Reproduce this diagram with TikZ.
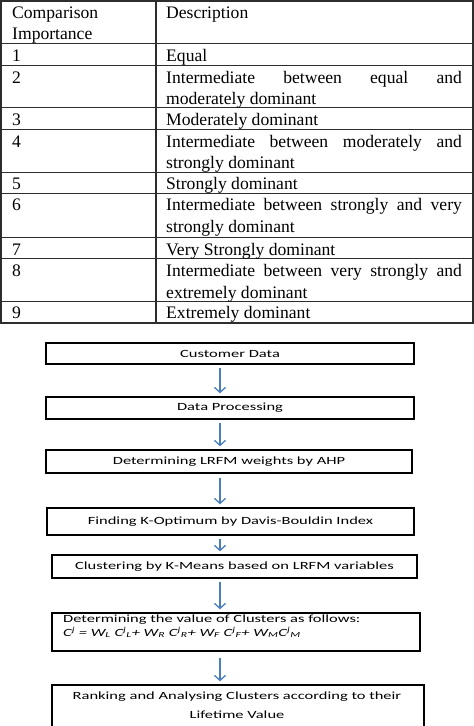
\documentclass[tikz,border=0pt]{standalone}
\usepackage{fontspec}
\setmainfont{Liberation Serif}
\newfontfamily\flowfont[FakeStretch=1.5]{Carlito}
\usetikzlibrary{arrows.meta,calc}
\definecolor{arrowblue}{RGB}{74,126,187}
\definecolor{tabline}{RGB}{45,45,45}
\begin{document}
\begin{tikzpicture}[x=1pt,y=-1pt,
  tabtext/.style={anchor=base west,inner sep=0pt,font=\fontsize{17.6}{21.5}\selectfont},
  hline/.style={draw=tabline,line width=1.2pt},
  flowbox/.style={draw=black,line width=1.4pt,inner sep=0pt,font=\flowfont\fontsize{11}{13}\selectfont},
  flowtext/.style={inner sep=0pt,font=\flowfont\fontsize{11}{13}\selectfont},
  flowarrow/.style={draw=arrowblue,line width=1.3pt,-{Straight Barb[length=5pt,width=11pt,line width=1.3pt]}}]
\useasboundingbox (0,0) rectangle (474,726);
% ---------- table ----------
\draw[draw=tabline,line width=2pt] (1,1) rectangle (472.5,322.7);
\draw[hline] (156,1) -- (156,322.7);
\foreach \yy in {43.5,65.5,107.7,129.4,172.7,193.3,237.3,258.3,301.5}{
  \draw[hline] (1,\yy) -- (472.5,\yy);
}
\node[tabtext] (h1a) at (12,18.5) {Comparison};
\node[tabtext] (h1b) at (12,39.5) {Importance};
\node[tabtext] (h2) at (166,18.5) {Description};
% rows
\node[tabtext] (n1) at (12,61) {1};
\node[tabtext] (d1) at (166,61) {Equal};
\node[tabtext] (n2) at (12,83) {2};
\node[tabtext] (d2a) at (166,83) {\makebox[295.7pt][s]{Intermediate between equal and}};
\node[tabtext] (d2b) at (166,104) {moderately dominant};
\node[tabtext] (n3) at (12,125.8) {3};
\node[tabtext] (d3) at (166,125.8) {Moderately dominant};
\node[tabtext] (n4) at (12,147) {4};
\node[tabtext] (d4a) at (166,147) {\makebox[295.7pt][s]{Intermediate between moderately and}};
\node[tabtext] (d4b) at (166,168.5) {strongly dominant};
\node[tabtext] (n5) at (12,189.3) {5};
\node[tabtext] (d5) at (166,189.3) {Strongly dominant};
\node[tabtext] (n6) at (12,210.7) {6};
\node[tabtext] (d6a) at (166,210.7) {\makebox[295.7pt][s]{Intermediate between strongly and very}};
\node[tabtext] (d6b) at (166,232.2) {strongly dominant};
\node[tabtext] (n7) at (12,255) {7};
\node[tabtext] (d7) at (166,255) {Very Strongly dominant};
\node[tabtext] (n8) at (12,276.7) {8};
\node[tabtext] (d8a) at (166,276.7) {\makebox[295.7pt][s]{Intermediate between very strongly and}};
\node[tabtext] (d8b) at (166,298.2) {extremely dominant};
\node[tabtext] (n9) at (12,318.3) {9};
\node[tabtext] (d9) at (166,318.3) {Extremely dominant};
% ---------- flowchart ----------
\coordinate (ax) at (220,0);
\node[flowbox,minimum width=368pt,minimum height=21pt] (b1) at (230,353.5) {Customer Data};
\node[flowbox,minimum width=368pt,minimum height=22pt] (b2) at (230,408) {Data Processing};
\node[flowbox,minimum width=366pt,minimum height=23pt] (b3) at (229,461.5) {Determining LRFM weights by AHP};
\node[flowbox,minimum width=367pt,minimum height=27pt] (b4) at (230.5,521.5) {Finding K-Optimum by Davis-Bouldin Index};
\node[flowbox,minimum width=365pt,minimum height=23pt] (b5) at (234.5,566.5) {Clustering by K-Means based on LRFM variables};
\node[flowbox,minimum width=368pt,minimum height=38pt] (b6) at (236,632) {};
\node[flowtext,anchor=base west] (t6a) at (63,622) {Determining the\ value of Clusters as follows:};
\node[flowtext,anchor=base west] (t6b) at (63,636) {\itshape C\textsuperscript{j} = W\textsubscript{L} C\textsuperscript{j}\textsubscript{L}+ W\textsubscript{R} C\textsuperscript{j}\textsubscript{R}+ W\textsubscript{F} C\textsuperscript{j}\textsubscript{F}+ W\textsubscript{M}C\textsuperscript{j}\textsubscript{M}};
\node[flowbox,minimum width=372pt,minimum height=52pt] (b7) at (238,711) {};
\node[flowtext,anchor=base] (t7a) at (237,699) {Ranking and Analysing Clusters according to their};
\node[flowtext,anchor=base] (t7b) at (237,718.5) {Lifetime Value};
\draw[flowarrow] ($(b1.south -| ax)+(0,3)$) -- ($(b2.north -| ax)+(0,-3)$);
\draw[flowarrow] ($(b2.south -| ax)+(0,3)$) -- ($(b3.north -| ax)+(0,-3)$);
\draw[flowarrow] ($(b3.south -| ax)+(0,4)$) -- ($(b4.north -| ax)+(0,-3)$);
\draw[flowarrow] ($(b4.south -| ax)+(0,3)$) -- ($(b5.north -| ax)+(0,-3)$);
\draw[flowarrow] ($(b5.south -| ax)+(0,3)$) -- ($(b6.north -| ax)+(0,-3)$);
\draw[flowarrow] ($(b6.south -| ax)+(0,6)$) -- ($(b7.north -| ax)+(0,-3)$);
\end{tikzpicture}
\end{document}
